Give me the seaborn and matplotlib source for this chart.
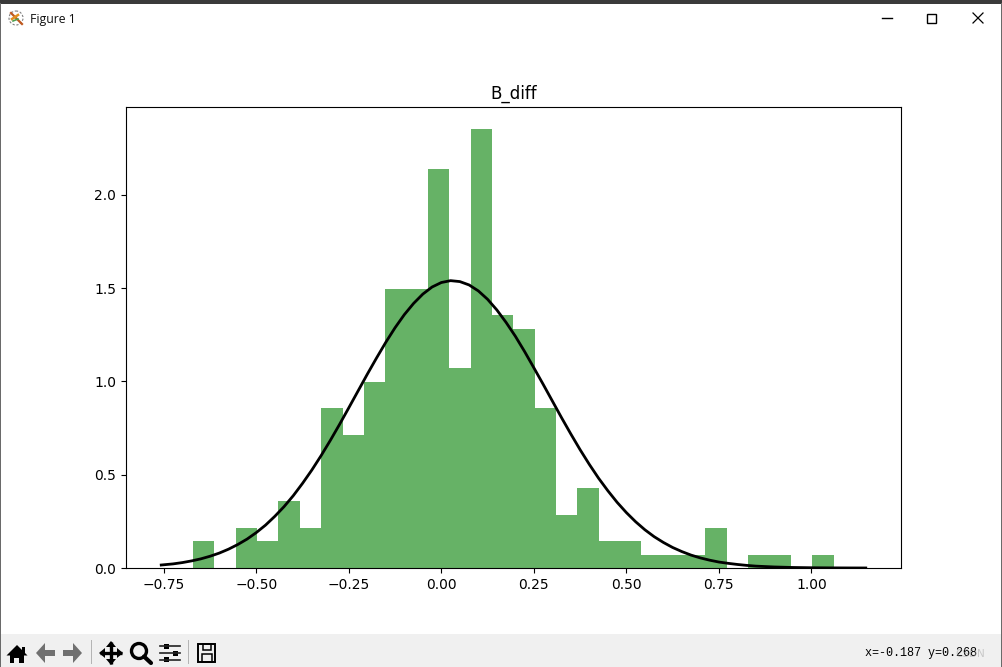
#!/usr/bin/env python3
# -*- coding: utf-8 -*-
"""Histogram of B_diff with fitted curve, shown inside the Figure 1 window."""

import matplotlib
matplotlib.use('Agg')
import matplotlib.pyplot as plt
from matplotlib.patches import Circle, Polygon, Rectangle
import numpy as np
import seaborn as sns

# histogram, 30 bins, density values
bin_first = -0.671
bin_last = 1.060
bin_count = 30
density = [0.143, 0.0, 0.214, 0.143, 0.357, 0.214, 0.856, 0.713, 0.998, 1.497,
           1.497, 2.139, 1.070, 2.353, 1.355, 1.283, 0.856, 0.285, 0.428, 0.143,
           0.143, 0.071, 0.071, 0.071, 0.214, 0.0, 0.071, 0.071, 0.0, 0.071]

# black curve
curve_x = [-0.757, -0.725, -0.70, -0.675, -0.65, -0.625, -0.60, -0.575, -0.55, -0.525,
           -0.50, -0.475, -0.45, -0.425, -0.40, -0.375, -0.35, -0.325, -0.30, -0.275,
           -0.25, -0.225, -0.20, -0.175, -0.15, -0.125, -0.10, -0.075, -0.05, -0.025,
           0.0, 0.025, 0.05, 0.075, 0.10, 0.125, 0.15, 0.175, 0.20, 0.225,
           0.25, 0.275, 0.30, 0.325, 0.35, 0.375, 0.40, 0.425, 0.45, 0.475,
           0.50, 0.525, 0.55, 0.575, 0.60, 0.625, 0.65, 0.675, 0.70, 0.725,
           0.75, 0.775, 0.80, 0.825, 0.85, 0.90, 0.95, 1.00, 1.05, 1.10, 1.147]
curve_y = [0.016, 0.022, 0.029, 0.038, 0.049, 0.063, 0.080, 0.101, 0.126, 0.155,
           0.190, 0.230, 0.277, 0.329, 0.388, 0.454, 0.525, 0.602, 0.684, 0.770,
           0.859, 0.949, 1.039, 1.126, 1.210, 1.288, 1.358, 1.418, 1.468, 1.506,
           1.530, 1.540, 1.535, 1.517, 1.485, 1.440, 1.383, 1.316, 1.242, 1.160,
           1.073, 0.985, 0.895, 0.805, 0.718, 0.634, 0.555, 0.481, 0.414, 0.352,
           0.297, 0.248, 0.205, 0.168, 0.137, 0.110, 0.088, 0.069, 0.054, 0.042,
           0.032, 0.025, 0.019, 0.014, 0.010, 0.0055, 0.0028, 0.0014, 0.0007, 0.0003, 0.0001]

chart_title = 'B_diff'
window_title = 'Figure 1'
status_text = 'x=-0.187 y=0.268'

W, H = 1002, 667
fig = plt.figure(figsize=(W / 100, H / 100), dpi=100, facecolor='white')

# window chrome lives on a full size axes in pixel coordinates
chrome = fig.add_axes([0, 0, 1, 1], zorder=0)
chrome.set_xlim(0, W)
chrome.set_ylim(H, 0)
chrome.axis('off')


def box(x, y, w, h, color, **kw):
    chrome.add_patch(Rectangle((x, y), w, h, facecolor=color, edgecolor='none', **kw))


def poly(points, color='black', **kw):
    chrome.add_patch(Polygon(points, closed=True, facecolor=color, edgecolor='none', **kw))


def draw_title_bar():
    box(0, 0, W, 3.5, '#3a3a3a')
    box(0, 3, 1.2, H, '#6a6a6a')
    box(W - 1, 3, 1, H, '#6a6a6a')
    chrome.text(30, 19, window_title, fontsize=8.8, family='Open Sans', va='center', color='#101010')
    # little app icon
    chrome.add_patch(Circle((16, 18), 7, fill=False, edgecolor='#808080', lw=0.8, ls=(0, (2, 1.5))))
    chrome.plot([11, 22], [13, 24], color='#c05a20', lw=1.6)
    chrome.plot([12, 18], [19, 15], color='#e09020', lw=1.8)
    chrome.plot([13, 18], [21, 19], color='#50a050', lw=1.2)
    # window buttons
    chrome.plot([882, 892], [18, 18], color='black', lw=1)
    chrome.add_patch(Rectangle((927.5, 13.5), 9, 9, fill=False, edgecolor='black', lw=1))
    chrome.plot([973, 983], [13, 23], color='black', lw=0.9)
    chrome.plot([973, 983], [23, 13], color='black', lw=0.9)


def draw_arrow(x0, direction):
    # disabled back / forward arrows, dithered grey in the window
    tip = x0 if direction < 0 else x0 + 19
    tail = x0 + 19 if direction < 0 else x0
    neck = tip - direction * 9
    poly([(tip, 653), (neck, 643), (neck, 650), (tail, 650), (tail, 656), (neck, 656), (neck, 663)],
         color='#707070')


def draw_move():
    cx, cy = 111, 653
    chrome.plot([100, 122], [cy, cy], color='black', lw=2.4, solid_capstyle='butt')
    chrome.plot([cx, cx], [642, 664], color='black', lw=2.4, solid_capstyle='butt')
    poly([(cx, 641), (cx - 5, 647), (cx + 5, 647)])
    poly([(cx, 665), (cx - 5, 659), (cx + 5, 659)])
    poly([(99, cy), (105, cy - 5), (105, cy + 5)])
    poly([(123, cy), (117, cy - 5), (117, cy + 5)])


def draw_toolbar():
    box(1, 634, W - 2, H - 634, '#f0f0f0')
    # home
    poly([(17, 645), (6.5, 655.5), (27.5, 655.5)])
    box(22, 646.5, 3.2, 6, 'black')
    poly([(10, 655), (24, 655), (24, 662.5), (19.5, 662.5), (19.5, 657.5),
          (14.5, 657.5), (14.5, 662.5), (10, 662.5)])
    draw_arrow(36, -1)
    draw_arrow(63, 1)
    box(91, 640, 1, 24, '#b4b4b4')
    draw_move()
    # zoom
    chrome.add_patch(Circle((139, 651), 7.5, fill=False, edgecolor='black', lw=2.4))
    chrome.plot([144, 151], [656.5, 663], color='black', lw=3, solid_capstyle='round')
    # sliders
    for y, knob in zip([646, 653, 659.5], [167, 176, 167]):
        chrome.plot([160, 180], [y, y], color='#222222', lw=1.2)
        box(knob - 2.5, y - 2.5, 5, 5, 'black')
    box(188, 640, 1, 24, '#b4b4b4')
    # save
    chrome.add_patch(Rectangle((198.5, 644), 17, 18, fill=False, edgecolor='black', lw=1.4))
    chrome.add_patch(Rectangle((203, 644), 8.5, 6, fill=False, edgecolor='black', lw=1.1))
    chrome.add_patch(Rectangle((202, 654), 10.5, 8, fill=False, edgecolor='black', lw=1.1))
    chrome.text(865, 653, status_text, fontsize=8.5, family='Liberation Mono', va='center', color='black')
    chrome.text(985, 654, 'CSDN', fontsize=7.5, ha='right', va='center', color='#a0a0a0', alpha=0.5)


draw_title_bar()
draw_toolbar()

# the chart itself
ax = fig.add_axes([126 / W, 1 - 568 / H, 775 / W, 461 / H], zorder=1)
bin_edges = np.linspace(bin_first, bin_last, bin_count + 1)
bin_centers = (bin_edges[:-1] + bin_edges[1:]) / 2

sns.histplot(x=bin_centers, weights=density, bins=bin_count, binrange=(bin_first, bin_last),
             color='g', alpha=0.6, edgecolor='none', linewidth=0, ax=ax)
sns.lineplot(x=curve_x, y=curve_y, color='k', linewidth=2, ax=ax, errorbar=None, sort=False)
ax.set_title(chart_title)
ax.set_ylabel('')
ax.set_xlabel('')

fig.savefig('out.png', dpi=100)
